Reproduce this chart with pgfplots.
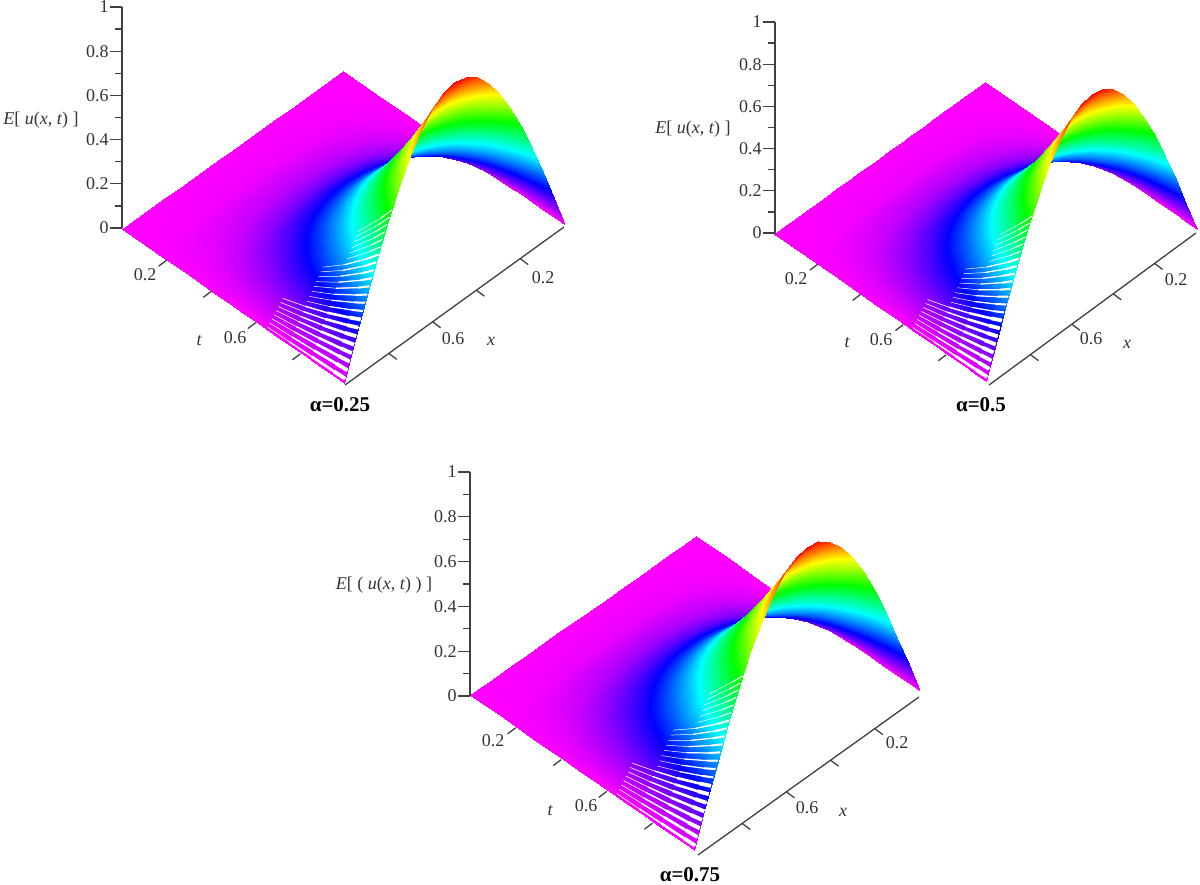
\documentclass[border=0pt]{standalone}
\usepackage{fontspec}
\setmainfont{Liberation Serif}
\usepackage{pgfplots}
\usepackage{pgfplotstable}
\pgfplotsset{compat=1.18}
\pgfplotstableread{
x t z
0 0 0
.05 0 0
.1 0 0
.15 0 0
.2 0 0
.25 0 0
.3 0 0
.35 0 0
.4 0 0
.45 0 0
.5 0 0
.55 0 0
.6 0 0
.65 0 0
.7 0 0
.75 0 0
.8 0 0
.85 0 0
.9 0 0
.95 0 0
1 0 0
0 .15 0
.05 .15 .002
.1 .15 .004
.15 .15 .005
.2 .15 .007
.25 .15 .008
.3 .15 .010
.35 .15 .011
.4 .15 .011
.45 .15 .012
.5 .15 .012
.55 .15 .012
.6 .15 .011
.65 .15 .011
.7 .15 .010
.75 .15 .008
.8 .15 .007
.85 .15 .005
.9 .15 .004
.95 .15 .002
1 .15 0
0 .3 0
.05 .3 .009
.1 .3 .018
.15 .3 .027
.2 .3 .035
.25 .3 .042
.3 .3 .048
.35 .3 .053
.4 .3 .056
.45 .3 .058
.5 .3 .059
.55 .3 .058
.6 .3 .056
.65 .3 .053
.7 .3 .048
.75 .3 .042
.8 .3 .035
.85 .3 .027
.9 .3 .018
.95 .3 .009
1 .3 0
0 .4 0
.05 .4 .018
.1 .4 .036
.15 .4 .053
.2 .4 .068
.25 .4 .082
.3 .4 .094
.35 .4 .103
.4 .4 .110
.45 .4 .115
.5 .4 .116
.55 .4 .115
.6 .4 .110
.65 .4 .103
.7 .4 .094
.75 .4 .082
.8 .4 .068
.85 .4 .053
.9 .4 .036
.95 .4 .018
1 .4 0
0 .5 0
.05 .5 .031
.1 .5 .061
.15 .5 .089
.2 .5 .115
.25 .5 .139
.3 .5 .159
.35 .5 .175
.4 .5 .186
.45 .5 .194
.5 .5 .196
.55 .5 .194
.6 .5 .186
.65 .5 .175
.7 .5 .159
.75 .5 .139
.8 .5 .115
.85 .5 .089
.9 .5 .061
.95 .5 .031
1 .5 0
0 .55 0
.05 .55 .038
.1 .55 .076
.15 .55 .111
.2 .55 .144
.25 .55 .173
.3 .55 .198
.35 .55 .218
.4 .55 .233
.45 .55 .242
.5 .55 .245
.55 .55 .242
.6 .55 .233
.65 .55 .218
.7 .55 .198
.75 .55 .173
.8 .55 .144
.85 .55 .111
.9 .55 .076
.95 .55 .038
1 .55 0
0 .6 0
.05 .6 .047
.1 .6 .093
.15 .6 .137
.2 .6 .177
.25 .6 .213
.3 .6 .244
.35 .6 .268
.4 .6 .286
.45 .6 .297
.5 .6 .301
.55 .6 .297
.6 .6 .286
.65 .6 .268
.7 .6 .244
.75 .6 .213
.8 .6 .177
.85 .6 .137
.9 .6 .093
.95 .6 .047
1 .6 0
0 .65 0
.05 .65 .057
.1 .65 .112
.15 .65 .165
.2 .65 .213
.25 .65 .257
.3 .65 .294
.35 .65 .323
.4 .65 .345
.45 .65 .359
.5 .65 .363
.55 .65 .359
.6 .65 .345
.65 .65 .323
.7 .65 .294
.75 .65 .257
.8 .65 .213
.85 .65 .165
.9 .65 .112
.95 .65 .057
1 .65 0
0 .7 0
.05 .7 .067
.1 .7 .133
.15 .7 .196
.2 .7 .254
.25 .7 .305
.3 .7 .349
.35 .7 .385
.4 .7 .411
.45 .7 .427
.5 .7 .432
.55 .7 .427
.6 .7 .411
.65 .7 .385
.7 .7 .349
.75 .7 .305
.8 .7 .254
.85 .7 .196
.9 .7 .133
.95 .7 .067
1 .7 0
0 .75 0
.05 .75 .079
.1 .75 .157
.15 .75 .231
.2 .75 .299
.25 .75 .359
.3 .75 .411
.35 .75 .453
.4 .75 .483
.45 .75 .502
.5 .75 .508
.55 .75 .502
.6 .75 .483
.65 .75 .453
.7 .75 .411
.75 .75 .359
.8 .75 .299
.85 .75 .231
.9 .75 .157
.95 .75 .079
1 .75 0
0 .8 0
.05 .8 .092
.1 .8 .183
.15 .8 .269
.2 .8 .348
.25 .8 .419
.3 .8 .479
.35 .8 .527
.4 .8 .563
.45 .8 .585
.5 .8 .592
.55 .8 .585
.6 .8 .563
.65 .8 .527
.7 .8 .479
.75 .8 .419
.8 .8 .348
.85 .8 .269
.9 .8 .183
.95 .8 .092
1 .8 0
0 .85 0
.05 .85 .106
.1 .85 .211
.15 .85 .310
.2 .85 .401
.25 .85 .482
.3 .85 .552
.35 .85 .608
.4 .85 .649
.45 .85 .674
.5 .85 .682
.55 .85 .674
.6 .85 .649
.65 .85 .608
.7 .85 .552
.75 .85 .482
.8 .85 .401
.85 .85 .310
.9 .85 .211
.95 .85 .106
1 .85 0
0 .9 0
.05 .9 .122
.1 .9 .241
.15 .9 .355
.2 .9 .459
.25 .9 .552
.3 .9 .632
.35 .9 .696
.4 .9 .743
.45 .9 .772
.5 .9 .781
.55 .9 .772
.6 .9 .743
.65 .9 .696
.7 .9 .632
.75 .9 .552
.8 .9 .459
.85 .9 .355
.9 .9 .241
.95 .9 .122
1 .9 0
0 .95 0
.05 .95 .138
.1 .95 .274
.15 .95 .402
.2 .95 .521
.25 .95 .626
.3 .95 .717
.35 .95 .789
.4 .95 .843
.45 .95 .875
.5 .95 .886
.55 .95 .875
.6 .95 .843
.65 .95 .789
.7 .95 .717
.75 .95 .626
.8 .95 .521
.85 .95 .402
.9 .95 .274
.95 .95 .138
1 .95 0
0 1 0
.05 1 .156
.1 1 .309
.15 1 .454
.2 1 .588
.25 1 .707
.3 1 .809
.35 1 .891
.4 1 .951
.45 1 .988
.5 1 1
.55 1 .988
.6 1 .951
.65 1 .891
.7 1 .809
.75 1 .707
.8 1 .588
.85 1 .454
.9 1 .309
.95 1 .156
1 1 0
}\surfA
\pgfplotstableread{
x t z
0 0 0
.05 0 0
.1 0 0
.15 0 0
.2 0 0
.25 0 0
.3 0 0
.35 0 0
.4 0 0
.45 0 0
.5 0 0
.55 0 0
.6 0 0
.65 0 0
.7 0 0
.75 0 0
.8 0 0
.85 0 0
.9 0 0
.95 0 0
1 0 0
0 .15 0
.05 .15 .002
.1 .15 .004
.15 .15 .006
.2 .15 .008
.25 .15 .010
.3 .15 .011
.35 .15 .012
.4 .15 .013
.45 .15 .014
.5 .15 .014
.55 .15 .014
.6 .15 .013
.65 .15 .012
.7 .15 .011
.75 .15 .010
.8 .15 .008
.85 .15 .006
.9 .15 .004
.95 .15 .002
1 .15 0
0 .3 0
.05 .3 .010
.1 .3 .021
.15 .3 .030
.2 .3 .039
.25 .3 .047
.3 .3 .054
.35 .3 .060
.4 .3 .064
.45 .3 .066
.5 .3 .067
.55 .3 .066
.6 .3 .064
.65 .3 .060
.7 .3 .054
.75 .3 .047
.8 .3 .039
.85 .3 .030
.9 .3 .021
.95 .3 .010
1 .3 0
0 .4 0
.05 .4 .020
.1 .4 .039
.15 .4 .058
.2 .4 .075
.25 .4 .090
.3 .4 .103
.35 .4 .113
.4 .4 .121
.45 .4 .125
.5 .4 .127
.55 .4 .125
.6 .4 .121
.65 .4 .113
.7 .4 .103
.75 .4 .090
.8 .4 .075
.85 .4 .058
.9 .4 .039
.95 .4 .020
1 .4 0
0 .5 0
.05 .5 .033
.1 .5 .065
.15 .5 .095
.2 .5 .123
.25 .5 .148
.3 .5 .170
.35 .5 .187
.4 .5 .200
.45 .5 .207
.5 .5 .210
.55 .5 .207
.6 .5 .200
.65 .5 .187
.7 .5 .170
.75 .5 .148
.8 .5 .123
.85 .5 .095
.9 .5 .065
.95 .5 .033
1 .5 0
0 .55 0
.05 .55 .041
.1 .55 .080
.15 .55 .118
.2 .55 .153
.25 .55 .184
.3 .55 .210
.35 .55 .232
.4 .55 .247
.45 .55 .257
.5 .55 .260
.55 .55 .257
.6 .55 .247
.65 .55 .232
.7 .55 .210
.75 .55 .184
.8 .55 .153
.85 .55 .118
.9 .55 .080
.95 .55 .041
1 .55 0
0 .6 0
.05 .6 .049
.1 .6 .098
.15 .6 .144
.2 .6 .186
.25 .6 .224
.3 .6 .256
.35 .6 .282
.4 .6 .301
.45 .6 .313
.5 .6 .317
.55 .6 .313
.6 .6 .301
.65 .6 .282
.7 .6 .256
.75 .6 .224
.8 .6 .186
.85 .6 .144
.9 .6 .098
.95 .6 .049
1 .6 0
0 .65 0
.05 .65 .059
.1 .65 .117
.15 .65 .172
.2 .65 .223
.25 .65 .268
.3 .65 .307
.35 .65 .338
.4 .65 .360
.45 .65 .374
.5 .65 .379
.55 .65 .374
.6 .65 .360
.65 .65 .338
.7 .65 .307
.75 .65 .268
.8 .65 .223
.85 .65 .172
.9 .65 .117
.95 .65 .059
1 .65 0
0 .7 0
.05 .7 .070
.1 .7 .138
.15 .7 .203
.2 .7 .263
.25 .7 .317
.3 .7 .362
.35 .7 .399
.4 .7 .426
.45 .7 .443
.5 .7 .448
.55 .7 .443
.6 .7 .426
.65 .7 .399
.7 .7 .362
.75 .7 .317
.8 .7 .263
.85 .7 .203
.9 .7 .138
.95 .7 .070
1 .7 0
0 .75 0
.05 .75 .082
.1 .75 .162
.15 .75 .237
.2 .75 .308
.25 .75 .370
.3 .75 .423
.35 .75 .466
.4 .75 .497
.45 .75 .517
.5 .75 .523
.55 .75 .517
.6 .75 .497
.65 .75 .466
.7 .75 .423
.75 .75 .370
.8 .75 .308
.85 .75 .237
.9 .75 .162
.95 .75 .082
1 .75 0
0 .8 0
.05 .8 .094
.1 .8 .187
.15 .8 .275
.2 .8 .356
.25 .8 .428
.3 .8 .489
.35 .8 .539
.4 .8 .575
.45 .8 .598
.5 .8 .605
.55 .8 .598
.6 .8 .575
.65 .8 .539
.7 .8 .489
.75 .8 .428
.8 .8 .356
.85 .8 .275
.9 .8 .187
.95 .8 .094
1 .8 0
0 .85 0
.05 .85 .108
.1 .85 .214
.15 .85 .315
.2 .85 .407
.25 .85 .490
.3 .85 .561
.35 .85 .617
.4 .85 .659
.45 .85 .685
.5 .85 .693
.55 .85 .685
.6 .85 .659
.65 .85 .617
.7 .85 .561
.75 .85 .490
.8 .85 .407
.85 .85 .315
.9 .85 .214
.95 .85 .108
1 .85 0
0 .9 0
.05 .9 .123
.1 .9 .244
.15 .9 .359
.2 .9 .465
.25 .9 .559
.3 .9 .639
.35 .9 .704
.4 .9 .751
.45 .9 .781
.5 .9 .790
.55 .9 .781
.6 .9 .751
.65 .9 .704
.7 .9 .639
.75 .9 .559
.8 .9 .465
.85 .9 .359
.9 .9 .244
.95 .9 .123
1 .9 0
0 .95 0
.05 .95 .139
.1 .95 .275
.15 .95 .405
.2 .95 .524
.25 .95 .630
.3 .95 .721
.35 .95 .794
.4 .95 .847
.45 .95 .880
.5 .95 .891
.55 .95 .880
.6 .95 .847
.65 .95 .794
.7 .95 .721
.75 .95 .630
.8 .95 .524
.85 .95 .405
.9 .95 .275
.95 .95 .139
1 .95 0
0 1 0
.05 1 .156
.1 1 .309
.15 1 .454
.2 1 .588
.25 1 .707
.3 1 .809
.35 1 .891
.4 1 .951
.45 1 .988
.5 1 1
.55 1 .988
.6 1 .951
.65 1 .891
.7 1 .809
.75 1 .707
.8 1 .588
.85 1 .454
.9 1 .309
.95 1 .156
1 1 0
}\surfB
\pgfplotstableread{
x t z
0 0 0
.05 0 0
.1 0 0
.15 0 0
.2 0 0
.25 0 0
.3 0 0
.35 0 0
.4 0 0
.45 0 0
.5 0 0
.55 0 0
.6 0 0
.65 0 0
.7 0 0
.75 0 0
.8 0 0
.85 0 0
.9 0 0
.95 0 0
1 0 0
0 .15 0
.05 .15 .003
.1 .15 .005
.15 .15 .008
.2 .15 .010
.25 .15 .012
.3 .15 .014
.35 .15 .015
.4 .15 .016
.45 .15 .017
.5 .15 .017
.55 .15 .017
.6 .15 .016
.65 .15 .015
.7 .15 .014
.75 .15 .012
.8 .15 .010
.85 .15 .008
.9 .15 .005
.95 .15 .003
1 .15 0
0 .3 0
.05 .3 .012
.1 .3 .023
.15 .3 .034
.2 .3 .044
.25 .3 .053
.3 .3 .061
.35 .3 .067
.4 .3 .071
.45 .3 .074
.5 .3 .075
.55 .3 .074
.6 .3 .071
.65 .3 .067
.7 .3 .061
.75 .3 .053
.8 .3 .044
.85 .3 .034
.9 .3 .023
.95 .3 .012
1 .3 0
0 .4 0
.05 .4 .022
.1 .4 .043
.15 .4 .064
.2 .4 .082
.25 .4 .099
.3 .4 .113
.35 .4 .125
.4 .4 .133
.45 .4 .138
.5 .4 .140
.55 .4 .138
.6 .4 .133
.65 .4 .125
.7 .4 .113
.75 .4 .099
.8 .4 .082
.85 .4 .064
.9 .4 .043
.95 .4 .022
1 .4 0
0 .5 0
.05 .5 .035
.1 .5 .070
.15 .5 .102
.2 .5 .132
.25 .5 .159
.3 .5 .182
.35 .5 .200
.4 .5 .214
.45 .5 .222
.5 .5 .225
.55 .5 .222
.6 .5 .214
.65 .5 .200
.7 .5 .182
.75 .5 .159
.8 .5 .132
.85 .5 .102
.9 .5 .070
.95 .5 .035
1 .5 0
0 .55 0
.05 .55 .043
.1 .55 .085
.15 .55 .125
.2 .55 .162
.25 .55 .195
.3 .55 .223
.35 .55 .246
.4 .55 .262
.45 .55 .273
.5 .55 .276
.55 .55 .273
.6 .55 .262
.65 .55 .246
.7 .55 .223
.75 .55 .195
.8 .55 .162
.85 .55 .125
.9 .55 .085
.95 .55 .043
1 .55 0
0 .6 0
.05 .6 .052
.1 .6 .103
.15 .6 .151
.2 .6 .196
.25 .6 .235
.3 .6 .269
.35 .6 .297
.4 .6 .317
.45 .6 .329
.5 .6 .333
.55 .6 .329
.6 .6 .317
.65 .6 .297
.7 .6 .269
.75 .6 .235
.8 .6 .196
.85 .6 .151
.9 .6 .103
.95 .6 .052
1 .6 0
0 .65 0
.05 .65 .062
.1 .65 .122
.15 .65 .180
.2 .65 .233
.25 .65 .280
.3 .65 .320
.35 .65 .353
.4 .65 .377
.45 .65 .391
.5 .65 .396
.55 .65 .391
.6 .65 .377
.65 .65 .353
.7 .65 .320
.75 .65 .280
.8 .65 .233
.85 .65 .180
.9 .65 .122
.95 .65 .062
1 .65 0
0 .7 0
.05 .7 .072
.1 .7 .143
.15 .7 .211
.2 .7 .273
.25 .7 .328
.3 .7 .375
.35 .7 .413
.4 .7 .441
.45 .7 .458
.5 .7 .464
.55 .7 .458
.6 .7 .441
.65 .7 .413
.7 .7 .375
.75 .7 .328
.8 .7 .273
.85 .7 .211
.9 .7 .143
.95 .7 .072
1 .7 0
0 .75 0
.05 .75 .084
.1 .75 .166
.15 .75 .244
.2 .75 .316
.25 .75 .380
.3 .75 .435
.35 .75 .479
.4 .75 .512
.45 .75 .532
.5 .75 .538
.55 .75 .532
.6 .75 .512
.65 .75 .479
.7 .75 .435
.75 .75 .380
.8 .75 .316
.85 .75 .244
.9 .75 .166
.95 .75 .084
1 .75 0
0 .8 0
.05 .8 .097
.1 .8 .191
.15 .8 .281
.2 .8 .364
.25 .8 .438
.3 .8 .501
.35 .8 .552
.4 .8 .589
.45 .8 .612
.5 .8 .619
.55 .8 .612
.6 .8 .589
.65 .8 .552
.7 .8 .501
.75 .8 .438
.8 .8 .364
.85 .8 .281
.9 .8 .191
.95 .8 .097
1 .8 0
0 .85 0
.05 .85 .110
.1 .85 .218
.15 .85 .320
.2 .85 .414
.25 .85 .498
.3 .85 .570
.35 .85 .627
.4 .85 .670
.45 .85 .696
.5 .85 .704
.55 .85 .696
.6 .85 .670
.65 .85 .627
.7 .85 .570
.75 .85 .498
.8 .85 .414
.85 .85 .320
.9 .85 .218
.95 .85 .110
1 .85 0
0 .9 0
.05 .9 .124
.1 .9 .247
.15 .9 .362
.2 .9 .469
.25 .9 .564
.3 .9 .646
.35 .9 .711
.4 .9 .759
.45 .9 .788
.5 .9 .798
.55 .9 .788
.6 .9 .759
.65 .9 .711
.7 .9 .646
.75 .9 .564
.8 .9 .469
.85 .9 .362
.9 .9 .247
.95 .9 .124
1 .9 0
0 .95 0
.05 .95 .140
.1 .95 .277
.15 .95 .407
.2 .95 .527
.25 .95 .633
.3 .95 .725
.35 .95 .798
.4 .95 .852
.45 .95 .885
.5 .95 .896
.55 .95 .885
.6 .95 .852
.65 .95 .798
.7 .95 .725
.75 .95 .633
.8 .95 .527
.85 .95 .407
.9 .95 .277
.95 .95 .140
1 .95 0
0 1 0
.05 1 .156
.1 1 .309
.15 1 .454
.2 1 .588
.25 1 .707
.3 1 .809
.35 1 .891
.4 1 .951
.45 1 .988
.5 1 1
.55 1 .988
.6 1 .951
.65 1 .891
.7 1 .809
.75 1 .707
.8 1 .588
.85 1 .454
.9 1 .309
.95 1 .156
1 1 0
}\surfC
\pgfplotstableread{
x t z
.995 .65 .006
.995 .75 .008
.995 .85 .011
.995 .95 .014
.995 1 .016
nan nan nan
.985 .65 .017
.985 .75 .024
.985 .85 .032
.985 .95 .042
.985 1 .047
nan nan nan
.975 .65 .029
.975 .75 .040
.975 .85 .054
.975 .95 .070
.975 1 .079
nan nan nan
.965 .65 .040
.965 .75 .056
.965 .85 .075
.965 .95 .097
.965 1 .110
nan nan nan
.955 .65 .051
.955 .75 .072
.955 .85 .096
.955 .95 .125
.955 1 .141
nan nan nan
.945 .65 .062
.945 .75 .087
.945 .85 .117
.945 .95 .152
.945 1 .172
nan nan nan
.935 .65 .074
.935 .75 .103
.935 .85 .138
.935 .95 .180
.935 1 .203
nan nan nan
.925 .65 .085
.925 .75 .119
.925 .85 .159
.925 .95 .207
.925 1 .233
nan nan nan
.915 .65 .096
.915 .75 .134
.915 .85 .180
.915 .95 .234
.915 1 .264
nan nan nan
.905 .65 .107
.905 .75 .149
.905 .85 .201
.905 .95 .261
.905 1 .294
nan nan nan
.895 .65 .118
.895 .75 .165
.895 .85 .221
.895 .95 .287
.895 1 .324
nan nan nan
.885 .65 .128
.885 .75 .180
.885 .85 .241
.885 .95 .313
.885 1 .354
nan nan nan
.875 .65 .139
.875 .75 .194
.875 .85 .261
.875 .95 .339
.875 1 .383
nan nan nan
.865 .65 .149
.865 .75 .209
.865 .85 .281
.865 .95 .365
.865 1 .412
nan nan nan
.855 .65 .160
.855 .75 .224
.855 .85 .300
.855 .95 .390
.855 1 .440
nan nan nan
.845 .65 .170
.845 .75 .238
.845 .85 .319
.845 .95 .415
.845 1 .468
nan nan nan
.835 .65 .180
.835 .75 .252
.835 .85 .338
.835 .95 .439
.835 1 .496
nan nan nan
.825 .65 .190
.825 .75 .265
.825 .85 .356
.825 .95 .463
.825 1 .523
nan nan nan
.815 .65 .199
.815 .75 .279
.815 .85 .374
.815 .95 .486
.815 1 .549
nan nan nan
.805 .65 .209
.805 .75 .292
.805 .85 .392
.805 .95 .510
.805 1 .575
nan nan nan
.795 .65 .218
.795 .75 .305
.795 .85 .410
.795 .95 .532
.795 1 .600
nan nan nan
.785 .65 .227
.785 .75 .318
.785 .85 .426
.785 .95 .554
.785 1 .625
}\gapsA
\pgfplotstableread{
x t z
.995 .65 .006
.995 .75 .008
.995 .85 .011
.995 .95 .014
.995 1 .016
nan nan nan
.985 .65 .018
.985 .75 .025
.985 .85 .033
.985 .95 .042
.985 1 .047
nan nan nan
.975 .65 .030
.975 .75 .041
.975 .85 .054
.975 .95 .070
.975 1 .079
nan nan nan
.965 .65 .042
.965 .75 .057
.965 .85 .076
.965 .95 .098
.965 1 .110
nan nan nan
.955 .65 .053
.955 .75 .074
.955 .85 .098
.955 .95 .126
.955 1 .141
nan nan nan
.945 .65 .065
.945 .75 .090
.945 .85 .119
.945 .95 .153
.945 1 .172
nan nan nan
.935 .65 .077
.935 .75 .106
.935 .85 .141
.935 .95 .181
.935 1 .203
nan nan nan
.925 .65 .088
.925 .75 .122
.925 .85 .162
.925 .95 .208
.925 1 .233
nan nan nan
.915 .65 .100
.915 .75 .138
.915 .85 .183
.915 .95 .235
.915 1 .264
nan nan nan
.905 .65 .111
.905 .75 .154
.905 .85 .204
.905 .95 .262
.905 1 .294
nan nan nan
.895 .65 .123
.895 .75 .169
.895 .85 .224
.895 .95 .289
.895 1 .324
nan nan nan
.885 .65 .134
.885 .75 .185
.885 .85 .245
.885 .95 .315
.885 1 .354
nan nan nan
.875 .65 .145
.875 .75 .200
.875 .85 .265
.875 .95 .341
.875 1 .383
nan nan nan
.865 .65 .156
.865 .75 .215
.865 .85 .285
.865 .95 .367
.865 1 .412
nan nan nan
.855 .65 .167
.855 .75 .230
.855 .85 .305
.855 .95 .392
.855 1 .440
nan nan nan
.845 .65 .177
.845 .75 .245
.845 .85 .324
.845 .95 .417
.845 1 .468
nan nan nan
.835 .65 .188
.835 .75 .259
.835 .85 .343
.835 .95 .441
.835 1 .496
nan nan nan
.825 .65 .198
.825 .75 .273
.825 .85 .362
.825 .95 .466
.825 1 .523
nan nan nan
.815 .65 .208
.815 .75 .287
.815 .85 .380
.815 .95 .489
.815 1 .549
nan nan nan
.805 .65 .218
.805 .75 .301
.805 .85 .398
.805 .95 .512
.805 1 .575
nan nan nan
.795 .65 .228
.795 .75 .314
.795 .85 .416
.795 .95 .535
.795 1 .600
nan nan nan
.785 .65 .237
.785 .75 .327
.785 .85 .433
.785 .95 .557
.785 1 .625
}\gapsB
\pgfplotstableread{
x t z
.995 .65 .006
.995 .75 .008
.995 .85 .011
.995 .95 .014
.995 1 .016
nan nan nan
.985 .65 .019
.985 .75 .025
.985 .85 .033
.985 .95 .042
.985 1 .047
nan nan nan
.975 .65 .031
.975 .75 .042
.975 .85 .055
.975 .95 .070
.975 1 .079
nan nan nan
.965 .65 .043
.965 .75 .059
.965 .85 .077
.965 .95 .098
.965 1 .110
nan nan nan
.955 .65 .056
.955 .75 .076
.955 .85 .099
.955 .95 .126
.955 1 .141
nan nan nan
.945 .65 .068
.945 .75 .092
.945 .85 .121
.945 .95 .154
.945 1 .172
nan nan nan
.935 .65 .080
.935 .75 .109
.935 .85 .143
.935 .95 .182
.935 1 .203
nan nan nan
.925 .65 .092
.925 .75 .126
.925 .85 .164
.925 .95 .209
.925 1 .233
nan nan nan
.915 .65 .105
.915 .75 .142
.915 .85 .186
.915 .95 .236
.915 1 .264
nan nan nan
.905 .65 .116
.905 .75 .158
.905 .85 .207
.905 .95 .263
.905 1 .294
nan nan nan
.895 .65 .128
.895 .75 .174
.895 .85 .228
.895 .95 .290
.895 1 .324
nan nan nan
.885 .65 .140
.885 .75 .190
.885 .85 .249
.885 .95 .317
.885 1 .354
nan nan nan
.875 .65 .152
.875 .75 .206
.875 .85 .269
.875 .95 .343
.875 1 .383
nan nan nan
.865 .65 .163
.865 .75 .221
.865 .85 .290
.865 .95 .369
.865 1 .412
nan nan nan
.855 .65 .174
.855 .75 .237
.855 .85 .310
.855 .95 .394
.855 1 .440
nan nan nan
.845 .65 .185
.845 .75 .252
.845 .85 .329
.845 .95 .419
.845 1 .468
nan nan nan
.835 .65 .196
.835 .75 .267
.835 .85 .349
.835 .95 .444
.835 1 .496
nan nan nan
.825 .65 .207
.825 .75 .281
.825 .85 .368
.825 .95 .468
.825 1 .523
nan nan nan
.815 .65 .217
.815 .75 .295
.815 .85 .387
.815 .95 .492
.815 1 .549
nan nan nan
.805 .65 .228
.805 .75 .309
.805 .85 .405
.805 .95 .515
.805 1 .575
nan nan nan
.795 .65 .238
.795 .75 .323
.795 .85 .423
.795 .95 .538
.795 1 .600
nan nan nan
.785 .65 .248
.785 .75 .336
.785 .85 .440
.785 .95 .560
.785 1 .625
}\gapsC
\pgfplotsset{
  colormap={maple}{rgb255=(255,0,255) rgb255=(0,0,255) rgb255=(0,255,255) rgb255=(0,255,0) rgb255=(255,255,0) rgb255=(255,0,0)},
}
\newcommand\gp[5]{%
  \addplot3[white,no markers,line width=#5,forget plot,unbounded coords=jump,
    restrict x to domain=#2:#3,restrict y to domain=#4:1] table[x=x,y=t,z=z]{#1};
}
% table, gaps, back corner (px), x vector, t vector, z scale
\newcommand\panel[9]{%
  \begin{scope}[shift={(#3,#4)}]
  \begin{axis}[
    at={(0,0)},anchor=origin,
    x={({#5*0.5pt},{-#6*0.5pt})},y={({#7*0.5pt},{-#8*0.5pt})},z={(0pt,{#9*0.5pt})},
    xmin=0,xmax=1,ymin=0,ymax=1,zmin=0,zmax=1,
    hide axis,clip=false,
    point meta min=0,point meta max=1,
  ]
    \addplot3[surf,shader=interp,z buffer=none,mesh/rows=15,mesh/cols=21,point meta=z]
      table[x=x,y=t,z=z]{#1};
    \gp{#2}{0.92}{1}{0.6}{0.3pt}
    \gp{#2}{0.92}{1}{0.7}{0.7pt}
    \gp{#2}{0.92}{1}{0.8}{1.3pt}
    \gp{#2}{0.92}{1}{0.9}{1.9pt}
    \gp{#2}{0.84}{0.92}{0.7}{0.25pt}
    \gp{#2}{0.84}{0.92}{0.8}{0.6pt}
    \gp{#2}{0.84}{0.92}{0.9}{1pt}
    \gp{#2}{0.78}{0.84}{0.8}{0.25pt}
    \gp{#2}{0.78}{0.84}{0.9}{0.5pt}
  \end{axis}
  \end{scope}
}
% z axis: px x, y at 0, y at 1
\newcommand\zaxis[3]{%
  \draw[axc] (#1,#2) -- (#1,#3);
  \foreach \i in {0,2,4,6,8,10}{\draw[axc] (#1,{#2+(#3-#2)*\i/10}) -- ++(-12,0);}
  \foreach \i in {1,3,5,7,9}{\draw[axc] (#1,{#2+(#3-#2)*\i/10}) -- ++(-7,0);}
  \foreach \i/\l in {0/0,2/0.2,4/0.4,6/0.6,8/0.8,10/1}{\node[txt,anchor=east] at (#1-13,{#2+(#3-#2)*\i/10}) {\l};}
}
% x axis from front to right, t ticks from left to front
\newcommand\baseaxes[6]{%
  \draw[axc] (#1,#2) -- (#3,#4);
  \foreach \f in {0.2,0.4,0.6,0.8}{
    \draw[axc] ({#1+(#3-#1)*(1-\f)},{#2+(#4-#2)*(1-\f)}) -- ++(8,6);
    \draw[axc] ({#5+(#1-#5)*\f},{#6+(#2-#6)*\f}) -- ++(-8,6);
  }
}
\begin{document}
\begin{tikzpicture}[x=0.5pt,y=-0.5pt,
  axc/.style={black!75,line width=0.65pt},
  txt/.style={font=\fontsize{9}{10}\selectfont,text=black!80,inner sep=0pt},
  lab/.style={font=\fontsize{9}{10}\selectfont\itshape,text=black!80,inner sep=0pt},
  capt/.style={font=\fontsize{10.5}{12}\selectfont\bfseries,inner sep=0pt}]
\path[use as bounding box] (0,0) rectangle (1200,884);
\panel{\surfA}{\gapsA}{343}{71}{-221}{158}{222}{154}{222}
\zaxis{122}{228}{7}
\baseaxes{345}{385}{564}{227}{122}{229}
\node[txt] at (145,275) {0.2};
\node[txt] at (235,338) {0.6};
\node[lab] at (199,341) {t};
\node[txt] at (543,278) {0.2};
\node[txt] at (453,339) {0.6};
\node[lab] at (491,341) {x};
\node[lab,font=\fontsize{9}{10}\selectfont] at (41,120) {\textit{E}[ \textit{u}(\textit{x}, \textit{t}) ]};
\node[capt] at (340,405) {α=0.25};
\panel{\surfB}{\gapsB}{985}{82}{-211}{152}{212}{147}{211}
\zaxis{775}{233}{22}
\baseaxes{989}{385}{1196}{233}{775}{234}
\node[txt] at (796,279) {0.2};
\node[txt] at (881,340) {0.6};
\node[lab] at (847,343) {t};
\node[txt] at (1176,280) {0.2};
\node[txt] at (1091,339) {0.6};
\node[lab] at (1127,344) {x};
\node[lab,font=\fontsize{9}{10}\selectfont] at (693,129) {\textit{E}[ \textit{u}(\textit{x}, \textit{t}) ]};
\node[capt] at (981,405) {α=0.5};
\panel{\surfC}{\gapsC}{696}{536}{-226}{159}{224}{155}{224}
\zaxis{470}{696}{472}
\baseaxes{698}{855}{919}{697}{470}{696}
\node[txt] at (493,741) {0.2};
\node[txt] at (586,806) {0.6};
\node[lab] at (550,811) {t};
\node[txt] at (897,743) {0.2};
\node[txt] at (807,808) {0.6};
\node[lab] at (843,812) {x};
\node[lab,font=\fontsize{9}{10}\selectfont] at (384,585) {\textit{E}[ ( \textit{u}(\textit{x}, \textit{t}) ) ]};
\node[capt] at (690,875) {α=0.75};
\end{tikzpicture}
\end{document}
